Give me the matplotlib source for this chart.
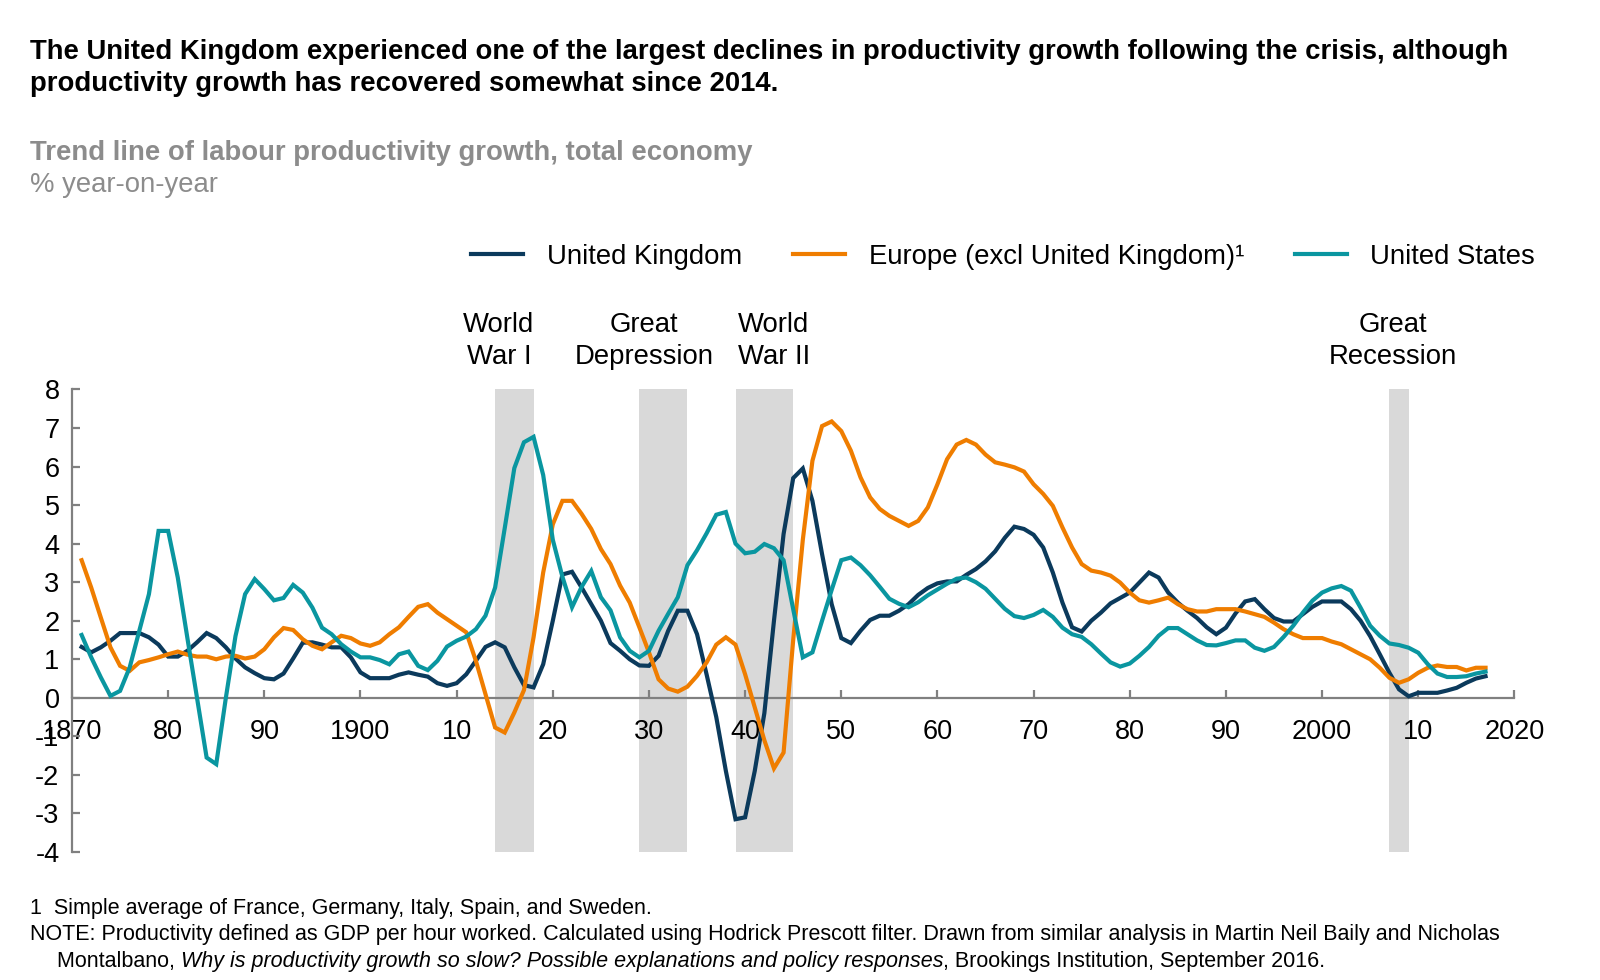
import matplotlib
matplotlib.use("Agg")
import matplotlib.pyplot as plt
from matplotlib.lines import Line2D
from matplotlib import transforms

plt.rcParams['font.family'] = ['Liberation Sans', 'DejaVu Sans']
plt.rcParams['axes.unicode_minus'] = False

# ---------------- data ----------------
years = list(range(1871, 2018))

uk = [1.32, 1.18, 1.31, 1.48, 1.68, 1.68, 1.68, 1.57, 1.38, 1.07,
      1.07, 1.22, 1.44, 1.68, 1.55, 1.31, 1.02, 0.79, 0.64, 0.51,
      0.48, 0.63, 1.02, 1.43, 1.44, 1.38, 1.31, 1.31, 1.05, 0.66,
      0.51, 0.51, 0.51, 0.60, 0.66, 0.60, 0.55, 0.38, 0.31, 0.38,
      0.61, 0.96, 1.32, 1.44, 1.31, 0.79, 0.33, 0.27, 0.87, 2.00,
      3.20, 3.27, 2.86, 2.43, 2.00, 1.42, 1.22, 1.00, 0.84, 0.83,
      1.09, 1.74, 2.26, 2.26, 1.65, 0.60, -0.50, -1.90, -3.15, -3.10,
      -1.90, -0.40, 2.00, 4.25, 5.70, 5.95, 5.11, 3.73, 2.43, 1.55,
      1.42, 1.74, 2.02, 2.13, 2.13, 2.26, 2.43, 2.67, 2.85, 2.97,
      3.02, 3.02, 3.19, 3.34, 3.54, 3.80, 4.15, 4.44, 4.38, 4.23,
      3.90, 3.25, 2.47, 1.83, 1.72, 2.00, 2.21, 2.45, 2.59, 2.73,
      2.99, 3.25, 3.12, 2.73, 2.47, 2.26, 2.07, 1.83, 1.65, 1.82,
      2.19, 2.50, 2.56, 2.30, 2.07, 1.98, 1.98, 2.17, 2.36, 2.50,
      2.50, 2.50, 2.30, 2.00, 1.60, 1.13, 0.65, 0.22, 0.04, 0.13,
      0.13, 0.13, 0.19, 0.26, 0.39, 0.50, 0.56]

europe = [3.57, 2.86, 2.08, 1.31, 0.83, 0.70, 0.92, 0.98, 1.05, 1.13,
          1.20, 1.12, 1.07, 1.07, 1.00, 1.07, 1.09, 1.02, 1.07, 1.26,
          1.57, 1.81, 1.76, 1.52, 1.35, 1.26, 1.44, 1.61, 1.55, 1.41,
          1.35, 1.44, 1.65, 1.83, 2.10, 2.36, 2.43, 2.21, 2.04, 1.87,
          1.70, 0.96, 0.10, -0.77, -0.90, -0.38, 0.20, 1.57, 3.25, 4.50,
          5.11, 5.11, 4.77, 4.38, 3.86, 3.47, 2.91, 2.47, 1.83, 1.18,
          0.48, 0.24, 0.16, 0.29, 0.57, 0.92, 1.38, 1.57, 1.38, 0.61,
          -0.25, -1.10, -1.83, -1.42, 1.50, 4.10, 6.15, 7.05, 7.17, 6.92,
          6.41, 5.72, 5.20, 4.90, 4.72, 4.59, 4.46, 4.59, 4.94, 5.54,
          6.19, 6.57, 6.69, 6.57, 6.31, 6.11, 6.05, 5.98, 5.87, 5.54,
          5.29, 4.98, 4.42, 3.90, 3.47, 3.30, 3.25, 3.17, 2.99, 2.73,
          2.53, 2.47, 2.53, 2.60, 2.43, 2.30, 2.24, 2.24, 2.30, 2.30,
          2.30, 2.24, 2.17, 2.10, 1.95, 1.78, 1.65, 1.55, 1.55, 1.55,
          1.46, 1.39, 1.26, 1.13, 1.00, 0.78, 0.52, 0.39, 0.48, 0.65,
          0.78, 0.84, 0.80, 0.80, 0.71, 0.78, 0.78]

us = [1.63, 1.05, 0.53, 0.05, 0.18, 0.79, 1.74, 2.69, 4.33, 4.33,
      3.12, 1.55, 0.00, -1.55, -1.72, 0.00, 1.60, 2.69, 3.08, 2.82,
      2.53, 2.59, 2.93, 2.73, 2.34, 1.82, 1.65, 1.39, 1.20, 1.05,
      1.05, 0.98, 0.87, 1.13, 1.20, 0.83, 0.72, 0.96, 1.33, 1.48,
      1.59, 1.78, 2.13, 2.86, 4.40, 5.96, 6.63, 6.77, 5.78, 4.10,
      3.14, 2.35, 2.88, 3.29, 2.61, 2.27, 1.57, 1.22, 1.05, 1.22,
      1.74, 2.18, 2.61, 3.44, 3.83, 4.27, 4.75, 4.82, 4.00, 3.75,
      3.79, 3.99, 3.88, 3.57, 2.30, 1.05, 1.18, 2.00, 2.80, 3.57,
      3.64, 3.44, 3.18, 2.88, 2.57, 2.44, 2.35, 2.48, 2.66, 2.81,
      2.96, 3.09, 3.12, 3.00, 2.83, 2.57, 2.31, 2.12, 2.07, 2.15,
      2.28, 2.10, 1.82, 1.65, 1.58, 1.39, 1.15, 0.92, 0.81, 0.89,
      1.09, 1.32, 1.61, 1.81, 1.81, 1.65, 1.49, 1.37, 1.36, 1.42,
      1.49, 1.49, 1.30, 1.22, 1.32, 1.58, 1.87, 2.21, 2.52, 2.73,
      2.84, 2.90, 2.78, 2.34, 1.87, 1.61, 1.41, 1.37, 1.30, 1.17,
      0.87, 0.63, 0.54, 0.54, 0.56, 0.63, 0.68]

series_names = ["United Kingdom", "Europe (excl United Kingdom)\u00b9", "United States"]
series_colors = ["#0b3a5c", "#ef7d00", "#0a96a0"]

event_labels = ["World\nWar I", "Great\nDepression", "World\nWar II", "Great\nRecession"]
event_start = [1914, 1929, 1939, 2007]
event_end = [1918, 1934, 1945, 2009]
event_label_x = [1914.4, 1929.5, 1943.0, 2007.4]

x_ticks = list(range(1870, 2021, 10))
x_tick_labels = ["1870", "80", "90", "1900", "10", "20", "30", "40", "50",
                 "60", "70", "80", "90", "2000", "10", "2020"]
y_ticks = list(range(-4, 9))

# ---------------- figure ----------------
fig = plt.figure(figsize=(16, 9.8), dpi=100)
ax = fig.add_axes([0.045, 0.1306, 0.9015, 0.4720])

axis_grey = "#808080"
for s, e in zip(event_start, event_end):
    ax.axvspan(s, e, color="#d9d9d9", lw=0, zorder=0)

for vals, name, col in zip([uk, europe, us], series_names, series_colors):
    ax.plot(years, vals, color=col, lw=3.0, label=name, zorder=3,
            solid_joinstyle="miter")

ax.set_xlim(1870, 2020)
ax.set_ylim(-4, 8)
for sp in ["top", "right"]:
    ax.spines[sp].set_visible(False)
ax.spines["bottom"].set_position(("data", 0))
ax.spines["bottom"].set_zorder(2)
for sp in ["left", "bottom"]:
    ax.spines[sp].set_color(axis_grey)
    ax.spines[sp].set_linewidth(1.6)

ax.set_xticks(x_ticks)
ax.set_xticklabels(x_tick_labels)
ax.set_yticks(y_ticks)
ax.set_yticklabels([str(v) for v in y_ticks])
ax.tick_params(axis="both", direction="in", length=6, width=1.6,
               color=axis_grey, labelsize=19.5, labelcolor="black")
ax.tick_params(axis="x", pad=15.5)
ax.tick_params(axis="y", pad=9)

trans = transforms.blended_transform_factory(ax.transData, ax.transAxes)
for lab, xc in zip(event_labels, event_label_x):
    ax.text(xc, 1.042, lab, transform=trans, ha="center", va="bottom",
            fontsize=19.8, linespacing=1.3, multialignment="center")

# legend
handles = [Line2D([0], [0], color=c, lw=3.0) for c in series_colors]
fig.legend(handles, series_names, loc="center left",
           bbox_to_anchor=(0.2945, 0.738), ncol=3, frameon=False,
           fontsize=19.8, handlelength=1.9, handletextpad=0.85,
           columnspacing=1.85, borderpad=0, borderaxespad=0)

# titles
tfs = 19.8
fig.text(0.019, 0.940, "The United Kingdom experienced one of the largest declines in productivity growth following the crisis, although",
         fontsize=tfs, fontweight="bold", ha="left", va="baseline")
fig.text(0.019, 0.9067, "productivity growth has recovered somewhat since 2014.",
         fontsize=tfs, fontweight="bold", ha="left", va="baseline")
fig.text(0.019, 0.8369, "Trend line of labour productivity growth, total economy",
         fontsize=tfs, fontweight="bold", color="#8c8c8c", ha="left", va="baseline")
fig.text(0.019, 0.8037, "% year-on-year",
         fontsize=tfs, color="#8c8c8c", ha="left", va="baseline")

# footnotes
fs = 15.5
fig.text(0.019, 0.0677, "1  Simple average of France, Germany, Italy, Spain, and Sweden.",
         fontsize=fs, ha="left", va="baseline")
fig.text(0.019, 0.0405, "NOTE: Productivity defined as GDP per hour worked. Calculated using Hodrick Prescott filter. Drawn from similar analysis in Martin Neil Baily and Nicholas",
         fontsize=fs, ha="left", va="baseline")

renderer = fig.canvas.get_renderer()
x0 = 0.0357
pieces = [("Montalbano, ", "normal"),
          ("Why is productivity growth so slow? Possible explanations and policy responses", "italic"),
          (", Brookings Institution, September 2016.", "normal")]
for txt, style in pieces:
    t = fig.text(x0, 0.0136, txt, fontsize=fs, style=style, ha="left", va="baseline")
    bb = t.get_window_extent(renderer=renderer)
    x0 += bb.width / fig.bbox.width

fig.savefig("out.png", dpi=100)
